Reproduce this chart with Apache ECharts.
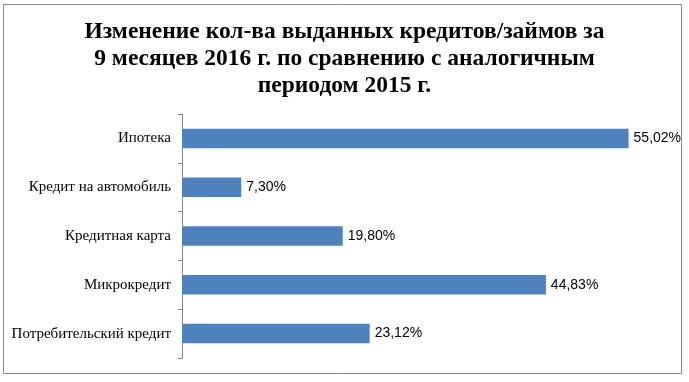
<!DOCTYPE html>
<html><head><meta charset="utf-8">
<script src="https://cdn.jsdelivr.net/npm/echarts@6/dist/echarts.min.js"></script>
<style>html,body{margin:0;padding:0;background:#fff}#c{width:689px;height:382px}</style>
</head><body><div id="c"></div>
<script>
const categories = ['Ипотека','Кредит на автомобиль','Кредитная карта','Микрокредит','Потребительский кредит'];
const values = [55.02, 7.30, 19.80, 44.83, 23.12];
const titleText = 'Изменение кол-ва выданных кредитов/займов за\n9 месяцев 2016 г. по сравнению с аналогичным\nпериодом 2015 г.';

const chart = echarts.init(document.getElementById('c'));
chart.setOption({
  animation: false,
  backgroundColor: '#fff',
  title: {
    text: titleText, left: 'center', top: 13,
    textStyle: { fontFamily: 'Liberation Serif', fontWeight: 'bold', fontSize: 23.5, lineHeight: 27, color: '#000' }
  },
  graphic: [{ type: 'rect', shape: { x: 3.5, y: 4.5, width: 678, height: 369 }, style: { fill: 'none', stroke: '#888', lineWidth: 1 }, silent: true }],
  grid: { left: 182, right: 20, top: 114, bottom: 24 },
  xAxis: { type: 'value', min: 0, max: 60, show: false },
  yAxis: {
    type: 'category', data: categories, inverse: true,
    axisLine: { show: true, lineStyle: { color: '#868686', width: 1 } },
    axisTick: { show: true, length: 4, lineStyle: { color: '#868686' } },
    axisLabel: { fontFamily: 'Liberation Serif', fontSize: 15, color: '#000', margin: 11 }
  },
  series: [{
    type: 'bar', data: values, barWidth: '40%',
    itemStyle: { color: '#4F81BD' },
    label: { show: true, position: 'right', distance: 5, fontFamily: 'Liberation Sans', fontSize: 14, color: '#000',
      formatter: p => p.value.toFixed(2).replace('.', ',') + '%' }
  }]
});
</script></body></html>
